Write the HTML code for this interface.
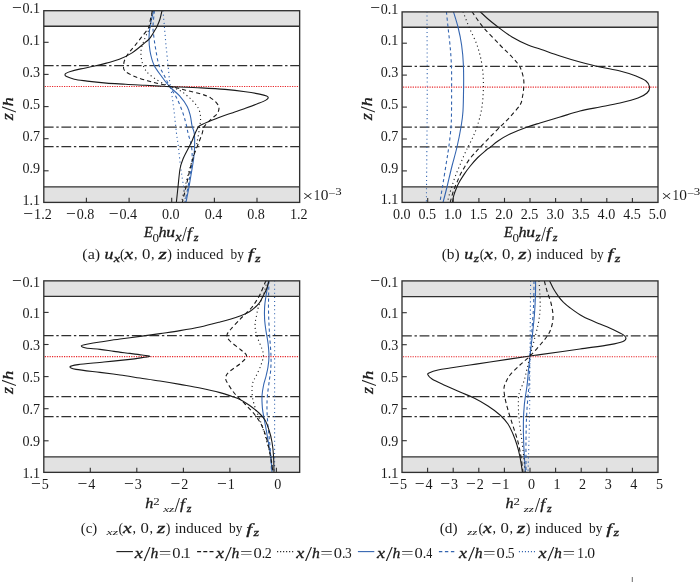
<!DOCTYPE html>
<html><head><meta charset="utf-8"><title>Figure</title>
<style>
html,body{margin:0;padding:0;background:#fff}
body{width:700px;height:582px;overflow:hidden;font-family:"Liberation Serif",serif}
svg{display:block}
svg text{font-family:"Liberation Serif",serif;fill:#1a1a1a}
.tk{font-size:14.1px}
.mn{font-size:17.5px}
.yl{font-size:14px;font-weight:bold;font-style:italic;letter-spacing:0.6px}
</style></head><body>
<svg width="700" height="582" viewBox="0 0 700 582">
<rect x="43.8" y="10.7" width="255.85" height="15.5" fill="#e2e2e2"/>
<rect x="43.8" y="186.9" width="255.85" height="15.4" fill="#e2e2e2"/>
<clipPath id="cpa"><rect x="43.8" y="10.7" width="255.85" height="191.7"/></clipPath>
<line x1="43.8" x2="299.65" y1="26.2" y2="26.2" stroke="#303030" stroke-width="1.35"/>
<line x1="43.8" x2="299.65" y1="186.9" y2="186.9" stroke="#303030" stroke-width="1.35"/>
<line x1="43.8" x2="299.65" y1="65.5" y2="65.5" stroke="#303030" stroke-width="1.25" stroke-dasharray="9.8,2.7,2.4,2.7"/>
<line x1="43.8" x2="299.65" y1="127.0" y2="127.0" stroke="#303030" stroke-width="1.25" stroke-dasharray="9.8,2.7,2.4,2.7"/>
<line x1="43.8" x2="299.65" y1="146.5" y2="146.5" stroke="#303030" stroke-width="1.25" stroke-dasharray="9.8,2.7,2.4,2.7"/>
<line x1="44.8" x2="299.65" y1="86.5" y2="86.5" stroke="#e8262a" stroke-width="1.1" stroke-dasharray="1.2,1.2"/>
<g clip-path="url(#cpa)" fill="none" stroke-linejoin="round">
<path d="M163.0,10.6C163.2,13.3 163.9,20.9 164.4,26.6C164.9,32.3 165.4,38.6 166.0,45.0C166.6,51.4 167.4,59.0 168.0,65.0C168.6,71.0 169.1,77.2 169.6,81.0C170.1,84.8 170.2,84.2 170.8,88.0C171.4,91.8 172.3,97.6 173.1,103.6C173.9,109.6 174.9,118.9 175.5,124.0C176.1,129.1 176.1,130.4 176.6,134.2C177.1,138.0 177.8,141.9 178.4,147.0C179.0,152.1 179.7,159.7 180.4,165.0C181.1,170.3 181.8,175.0 182.4,179.0C183.0,183.0 183.5,185.2 184.0,189.0C184.5,192.8 185.3,199.8 185.6,202.0" stroke="#3465b0" stroke-width="1.1" stroke-dasharray="1.1,3"/>
<path d="M154.4,10.6C154.2,13.3 153.1,22.0 153.0,26.6C152.9,31.2 153.5,33.9 154.0,38.0C154.5,42.1 155.2,46.5 156.0,51.0C156.8,55.5 157.5,60.7 159.0,65.0C160.5,69.3 163.2,73.3 165.0,77.0C166.8,80.7 168.1,83.6 170.0,87.0C171.9,90.4 174.3,93.5 176.3,97.3C178.3,101.1 180.2,105.7 181.8,109.9C183.4,114.1 184.6,118.5 185.7,122.4C186.8,126.3 187.3,130.1 188.1,133.4C188.9,136.7 189.8,139.1 190.5,142.0C191.2,144.9 191.8,147.5 192.0,151.0C192.2,154.5 192.3,159.0 192.0,163.0C191.7,167.0 190.7,171.0 190.0,175.0C189.3,179.0 188.8,182.5 188.0,187.0C187.2,191.5 185.5,199.5 185.0,202.0" stroke="#3465b0" stroke-width="1.1" stroke-dasharray="3.2,2.8"/>
<path d="M153.6,10.6C153.0,13.3 150.8,22.0 150.0,26.6C149.2,31.2 149.0,33.9 149.0,38.0C149.0,42.1 149.2,46.5 150.0,51.0C150.8,55.5 152.0,60.7 154.0,65.0C156.0,69.3 159.3,73.3 162.0,77.0C164.7,80.7 167.1,83.9 170.0,87.0C172.9,90.1 176.5,92.4 179.4,95.7C182.3,99.0 185.5,103.3 187.3,106.7C189.1,110.1 189.6,112.9 190.4,116.1C191.2,119.2 191.3,122.6 192.0,125.6C192.7,128.6 194.0,130.6 194.4,134.2C194.8,137.8 194.7,142.9 194.6,147.0C194.5,151.1 194.2,154.3 193.6,159.0C193.0,163.7 191.8,170.3 191.0,175.0C190.2,179.7 189.8,182.5 189.0,187.0C188.2,191.5 186.5,199.5 186.0,202.0" stroke="#3465b0" stroke-width="1.1"/>
<path d="M152.0,10.6C151.7,13.3 151.2,22.0 150.0,26.6C148.8,31.2 146.5,33.9 145.0,38.0C143.5,42.1 141.3,46.5 141.0,51.0C140.7,55.5 141.5,61.0 143.0,65.0C144.5,69.0 146.2,71.7 150.0,75.0C153.8,78.3 161.1,82.5 166.0,85.0C170.9,87.5 175.6,88.2 179.4,90.2C183.2,92.2 186.3,95.1 188.9,97.3C191.5,99.5 193.4,101.5 195.1,103.6C196.8,105.7 198.2,107.6 199.1,109.9C200.0,112.2 200.5,115.1 200.6,117.7C200.7,120.3 200.3,122.4 199.9,125.6C199.5,128.8 198.7,133.4 198.0,137.0C197.3,140.6 197.0,143.0 196.0,147.0C195.0,151.0 193.3,156.3 192.0,161.0C190.7,165.7 189.2,170.7 188.0,175.0C186.8,179.3 186.1,182.5 185.0,187.0C183.9,191.5 182.2,199.5 181.6,202.0" stroke="#1a1a1a" stroke-width="1.1" stroke-dasharray="1.1,3"/>
<path d="M152.4,10.6C152.1,12.0 151.1,16.3 150.5,19.0C149.9,21.7 149.6,24.8 149.0,26.6C148.4,28.4 148.4,28.1 147.1,30.0C145.8,31.9 143.1,35.1 141.1,37.7C139.1,40.3 136.9,43.1 135.1,45.4C133.2,47.7 131.6,49.3 130.0,51.4C128.4,53.5 126.6,55.7 125.5,58.0C124.4,60.3 123.7,62.8 123.6,65.0C123.5,67.2 122.9,69.0 125.0,71.0C127.1,73.0 131.5,75.2 136.0,77.0C140.5,78.8 146.5,80.5 152.0,82.0C157.5,83.5 163.4,84.6 169.0,86.0C174.6,87.4 180.3,88.9 185.7,90.2C191.1,91.5 197.2,92.8 201.4,94.1C205.6,95.4 208.3,96.5 210.9,98.1C213.5,99.7 215.8,101.9 217.1,103.6C218.4,105.3 219.0,106.6 219.0,108.3C219.0,110.0 218.4,112.0 217.1,113.8C215.8,115.6 213.1,117.1 210.9,119.3C208.7,121.5 205.2,124.8 203.8,127.1C202.4,129.4 203.3,130.1 202.2,133.4C201.1,136.7 198.4,143.4 197.0,147.0C195.6,150.6 195.2,151.3 194.0,155.0C192.8,158.7 191.3,163.7 190.0,169.0C188.7,174.3 187.3,181.5 186.0,187.0C184.7,192.5 183.0,199.5 182.4,202.0" stroke="#1a1a1a" stroke-width="1.1" stroke-dasharray="4.2,3"/>
<path d="M162.0,10.6C161.7,12.0 160.8,16.3 160.0,19.0C159.2,21.7 157.8,24.8 157.0,26.6C156.2,28.4 156.2,28.0 155.0,30.0C153.8,32.0 151.4,36.3 149.7,38.4C148.0,40.5 147.9,40.2 145.0,42.6C142.1,45.0 136.4,50.1 132.1,52.9C127.8,55.7 123.6,57.6 119.3,59.3C115.0,61.0 110.7,61.9 106.4,63.1C102.1,64.3 97.9,65.3 93.6,66.3C89.3,67.3 84.6,68.0 80.7,68.9C76.8,69.8 72.9,70.8 70.4,71.5C67.9,72.2 66.8,72.8 65.9,73.4C65.0,74.0 64.9,74.4 65.0,74.9C65.1,75.4 65.0,75.9 66.6,76.6C68.1,77.3 70.9,78.5 74.3,79.2C77.7,80.0 81.8,80.4 87.1,81.1C92.4,81.8 100.0,82.6 106.4,83.1C112.8,83.6 119.3,83.9 125.7,84.3C132.1,84.7 139.3,85.0 145.0,85.3C150.7,85.6 155.8,85.9 160.0,86.1C164.2,86.3 163.1,86.3 170.0,86.6C176.9,86.9 192.2,87.4 201.4,87.9C210.6,88.4 217.7,88.8 225.0,89.4C232.3,90.1 239.6,91.0 245.4,91.8C251.2,92.6 256.1,93.4 259.6,94.1C263.1,94.8 265.2,95.4 266.6,96.0C268.0,96.6 268.3,97.1 268.2,97.8C268.1,98.5 267.6,99.1 265.9,100.1C264.2,101.1 261.4,102.2 258.0,103.6C254.6,105.0 249.6,106.8 245.4,108.3C241.2,109.8 237.1,111.3 232.9,112.7C228.7,114.1 224.2,115.5 220.3,116.9C216.4,118.3 212.5,119.9 209.3,121.2C206.2,122.5 203.2,123.8 201.4,124.8C199.6,125.8 199.4,125.7 198.3,127.1C197.2,128.5 196.2,131.1 195.1,133.4C194.0,135.7 193.0,138.7 192.0,141.0C191.0,143.3 190.5,144.0 189.0,147.0C187.5,150.0 184.5,155.3 183.0,159.0C181.5,162.7 180.8,164.3 180.0,169.0C179.2,173.7 178.6,181.5 178.0,187.0C177.4,192.5 176.7,199.5 176.4,202.0" stroke="#1a1a1a" stroke-width="1.1"/>
</g>
<line x1="86.4" x2="86.4" y1="202.35" y2="197.85" stroke="#303030" stroke-width="1.1"/>
<line x1="129.1" x2="129.1" y1="202.35" y2="197.85" stroke="#303030" stroke-width="1.1"/>
<line x1="171.7" x2="171.7" y1="202.35" y2="197.85" stroke="#303030" stroke-width="1.1"/>
<line x1="214.4" x2="214.4" y1="202.35" y2="197.85" stroke="#303030" stroke-width="1.1"/>
<line x1="257.0" x2="257.0" y1="202.35" y2="197.85" stroke="#303030" stroke-width="1.1"/>
<line x1="43.8" x2="48.599999999999994" y1="42.3" y2="42.3" stroke="#303030" stroke-width="1.1"/>
<line x1="43.8" x2="48.599999999999994" y1="74.4" y2="74.4" stroke="#303030" stroke-width="1.1"/>
<line x1="43.8" x2="48.599999999999994" y1="106.6" y2="106.6" stroke="#303030" stroke-width="1.1"/>
<line x1="43.8" x2="48.599999999999994" y1="138.7" y2="138.7" stroke="#303030" stroke-width="1.1"/>
<line x1="43.8" x2="48.599999999999994" y1="170.8" y2="170.8" stroke="#303030" stroke-width="1.1"/>
<rect x="43.8" y="10.7" width="255.85" height="191.7" fill="none" stroke="#303030" stroke-width="1.35"/>
<text class="tk" x="34.1" y="218.9">1.2</text>
<text class="mn" x="33.2" y="218.6" text-anchor="end">−</text>
<text class="tk" x="76.7" y="218.9">0.8</text>
<text class="mn" x="75.8" y="218.6" text-anchor="end">−</text>
<text class="tk" x="119.4" y="218.9">0.4</text>
<text class="mn" x="118.5" y="218.6" text-anchor="end">−</text>
<text class="tk" x="162.0" y="218.9">0.0</text>
<text class="tk" x="204.7" y="218.9">0.4</text>
<text class="tk" x="247.3" y="218.9">0.8</text>
<text class="tk" x="289.9" y="218.9">1.2</text>
<text class="tk" x="40.1" y="13.1" text-anchor="end">0.1</text>
<text class="mn" x="21.8" y="12.8" text-anchor="end">−</text>
<text class="tk" x="40.1" y="44.7" text-anchor="end">0.1</text>
<text class="tk" x="40.1" y="76.8" text-anchor="end">0.3</text>
<text class="tk" x="40.1" y="109.0" text-anchor="end">0.5</text>
<text class="tk" x="40.1" y="141.1" text-anchor="end">0.7</text>
<text class="tk" x="40.1" y="173.2" text-anchor="end">0.9</text>
<text class="tk" x="40.1" y="204.8" text-anchor="end">1.1</text>
<rect x="402.1" y="11.9" width="255.90" height="15.3" fill="#e2e2e2"/>
<rect x="402.1" y="186.9" width="255.90" height="15.5" fill="#e2e2e2"/>
<clipPath id="cpb"><rect x="402.1" y="11.9" width="255.90" height="190.5"/></clipPath>
<line x1="402.1" x2="658.0" y1="27.2" y2="27.2" stroke="#303030" stroke-width="1.35"/>
<line x1="402.1" x2="658.0" y1="186.9" y2="186.9" stroke="#303030" stroke-width="1.35"/>
<line x1="402.1" x2="658.0" y1="66.3" y2="66.3" stroke="#303030" stroke-width="1.25" stroke-dasharray="9.8,2.7,2.4,2.7"/>
<line x1="402.1" x2="658.0" y1="127.0" y2="127.0" stroke="#303030" stroke-width="1.25" stroke-dasharray="9.8,2.7,2.4,2.7"/>
<line x1="402.1" x2="658.0" y1="146.8" y2="146.8" stroke="#303030" stroke-width="1.25" stroke-dasharray="9.8,2.7,2.4,2.7"/>
<line x1="403.1" x2="658.0" y1="87.1" y2="87.1" stroke="#e8262a" stroke-width="1.1" stroke-dasharray="1.2,1.2"/>
<g clip-path="url(#cpb)" fill="none" stroke-linejoin="round">
<path d="M427.0,11.6C427.0,26.3 427.3,68.2 427.2,100.0C427.1,131.8 426.5,185.4 426.4,202.5" stroke="#3465b0" stroke-width="1.1" stroke-dasharray="1.1,3"/>
<path d="M446.4,11.6C446.7,14.2 447.4,21.4 448.0,27.0C448.6,32.6 449.4,38.7 450.0,45.0C450.6,51.3 451.1,58.0 451.4,65.0C451.7,72.0 451.6,79.0 451.6,87.0C451.6,95.0 451.6,106.3 451.5,113.0C451.4,119.7 451.4,121.3 451.0,127.0C450.6,132.7 449.6,141.0 448.8,147.0C448.0,153.0 447.2,157.3 446.3,163.0C445.4,168.7 444.2,176.2 443.4,181.1C442.6,186.0 442.1,188.9 441.5,192.5C440.9,196.1 440.2,200.8 439.9,202.5" stroke="#3465b0" stroke-width="1.1" stroke-dasharray="3.2,2.8"/>
<path d="M453.4,11.6C454.2,14.2 456.6,21.4 458.0,27.0C459.4,32.6 460.7,38.7 461.6,45.0C462.5,51.3 463.1,58.0 463.4,65.0C463.7,72.0 463.7,79.3 463.6,87.0C463.5,94.7 463.4,104.3 463.0,111.0C462.6,117.7 462.0,121.0 461.0,127.0C460.0,133.0 458.5,140.5 457.0,147.0C455.5,153.5 453.7,159.3 452.0,166.0C450.3,172.7 448.5,180.9 447.0,187.0C445.5,193.1 443.7,199.9 443.0,202.5" stroke="#3465b0" stroke-width="1.1"/>
<path d="M463.0,11.6C464.0,14.2 466.7,21.4 469.0,27.0C471.3,32.6 474.8,38.7 477.0,45.0C479.2,51.3 480.9,58.0 482.0,65.0C483.1,72.0 483.5,79.7 483.4,87.0C483.3,94.3 482.7,102.3 481.6,109.0C480.5,115.7 478.6,122.0 477.0,127.0C475.4,132.0 473.5,135.7 472.0,139.0C470.5,142.3 469.0,145.0 468.0,147.0C467.0,149.0 466.9,149.1 466.0,151.0C465.1,152.9 463.7,156.2 462.7,158.5C461.7,160.8 460.8,162.9 459.9,165.1C459.0,167.3 458.1,169.3 457.1,171.7C456.2,174.0 455.1,176.7 454.2,179.2C453.3,181.7 452.6,184.4 451.9,186.8C451.1,189.2 450.5,190.8 449.7,193.4C448.9,196.0 447.7,201.0 447.3,202.5" stroke="#1a1a1a" stroke-width="1.1" stroke-dasharray="1.1,3"/>
<path d="M472.0,11.6C473.8,14.2 478.3,21.4 483.0,27.0C487.7,32.6 495.2,40.0 500.0,45.0C504.8,50.0 508.7,53.3 512.0,57.0C515.3,60.7 518.1,63.3 520.0,67.0C521.9,70.7 523.0,75.3 523.6,79.0C524.2,82.7 523.8,86.0 523.6,89.0C523.4,92.0 523.0,94.3 522.4,97.0C521.8,99.7 522.1,101.7 520.0,105.0C517.9,108.3 513.3,113.3 510.0,117.0C506.7,120.7 503.3,123.7 500.0,127.0C496.7,130.3 493.2,133.7 490.0,137.0C486.8,140.3 482.9,144.5 480.5,147.0C478.1,149.5 477.8,149.8 475.9,151.9C474.0,154.0 471.2,156.9 469.3,159.4C467.4,161.9 466.0,164.6 464.6,167.0C463.2,169.4 462.0,171.2 460.8,173.6C459.6,175.9 458.5,178.8 457.5,181.1C456.5,183.4 455.6,185.5 454.7,187.7C453.8,189.9 453.1,191.8 452.4,194.3C451.6,196.8 450.6,201.1 450.2,202.5" stroke="#1a1a1a" stroke-width="1.1" stroke-dasharray="4.2,3"/>
<path d="M480.0,11.6C481.3,12.8 485.0,16.4 488.0,19.0C491.0,21.6 494.0,24.0 498.0,27.0C502.0,30.0 507.0,34.0 512.0,37.0C517.0,40.0 523.3,43.0 528.0,45.0C532.7,47.0 534.7,47.2 540.0,49.0C545.3,50.8 553.3,53.8 560.0,56.0C566.7,58.2 573.3,60.2 580.0,62.0C586.7,63.8 593.3,65.5 600.0,67.0C606.7,68.5 614.0,69.5 620.0,71.0C626.0,72.5 631.7,74.3 636.0,76.0C640.3,77.7 643.7,79.2 646.0,81.0C648.3,82.8 649.4,85.0 649.6,87.0C649.8,89.0 648.9,91.2 647.0,93.0C645.1,94.8 642.5,96.3 638.0,98.0C633.5,99.7 626.3,101.5 620.0,103.0C613.7,104.5 606.7,105.7 600.0,107.0C593.3,108.3 586.7,109.3 580.0,111.0C573.3,112.7 566.7,115.0 560.0,117.0C553.3,119.0 545.7,121.3 540.0,123.0C534.3,124.7 531.0,125.6 526.0,127.4C521.0,129.2 514.7,131.7 510.0,134.0C505.3,136.3 501.2,138.8 498.0,141.0C494.8,143.2 492.4,145.5 490.5,147.0C488.6,148.5 488.4,148.2 486.3,150.0C484.2,151.8 480.5,154.8 477.8,157.5C475.1,160.2 472.5,163.3 470.3,166.0C468.1,168.7 466.3,171.1 464.6,173.6C462.9,176.1 461.2,178.8 459.9,181.1C458.6,183.4 457.6,185.3 456.6,187.7C455.6,190.1 454.5,192.8 453.8,195.3C453.1,197.8 452.6,201.3 452.3,202.5" stroke="#1a1a1a" stroke-width="1.1"/>
</g>
<line x1="427.7" x2="427.7" y1="202.4" y2="197.9" stroke="#303030" stroke-width="1.1"/>
<line x1="453.3" x2="453.3" y1="202.4" y2="197.9" stroke="#303030" stroke-width="1.1"/>
<line x1="478.9" x2="478.9" y1="202.4" y2="197.9" stroke="#303030" stroke-width="1.1"/>
<line x1="504.5" x2="504.5" y1="202.4" y2="197.9" stroke="#303030" stroke-width="1.1"/>
<line x1="530.0" x2="530.0" y1="202.4" y2="197.9" stroke="#303030" stroke-width="1.1"/>
<line x1="555.6" x2="555.6" y1="202.4" y2="197.9" stroke="#303030" stroke-width="1.1"/>
<line x1="581.2" x2="581.2" y1="202.4" y2="197.9" stroke="#303030" stroke-width="1.1"/>
<line x1="606.8" x2="606.8" y1="202.4" y2="197.9" stroke="#303030" stroke-width="1.1"/>
<line x1="632.4" x2="632.4" y1="202.4" y2="197.9" stroke="#303030" stroke-width="1.1"/>
<line x1="402.1" x2="406.90000000000003" y1="43.2" y2="43.2" stroke="#303030" stroke-width="1.1"/>
<line x1="402.1" x2="406.90000000000003" y1="75.1" y2="75.1" stroke="#303030" stroke-width="1.1"/>
<line x1="402.1" x2="406.90000000000003" y1="107.1" y2="107.1" stroke="#303030" stroke-width="1.1"/>
<line x1="402.1" x2="406.90000000000003" y1="139.0" y2="139.0" stroke="#303030" stroke-width="1.1"/>
<line x1="402.1" x2="406.90000000000003" y1="170.9" y2="170.9" stroke="#303030" stroke-width="1.1"/>
<rect x="402.1" y="11.9" width="255.90" height="190.5" fill="none" stroke="#303030" stroke-width="1.35"/>
<text class="tk" x="392.9" y="218.8">0.0</text>
<text class="tk" x="418.5" y="218.8">0.5</text>
<text class="tk" x="444.1" y="218.8">1.0</text>
<text class="tk" x="469.7" y="218.8">1.5</text>
<text class="tk" x="495.2" y="218.8">2.0</text>
<text class="tk" x="520.8" y="218.8">2.5</text>
<text class="tk" x="546.4" y="218.8">3.0</text>
<text class="tk" x="572.0" y="218.8">3.5</text>
<text class="tk" x="597.6" y="218.8">4.0</text>
<text class="tk" x="623.2" y="218.8">4.5</text>
<text class="tk" x="648.8" y="218.8">5.0</text>
<text class="tk" x="398.4" y="13.5" text-anchor="end">0.1</text>
<text class="mn" x="380.1" y="13.2" text-anchor="end">−</text>
<text class="tk" x="398.4" y="44.8" text-anchor="end">0.1</text>
<text class="tk" x="398.4" y="76.7" text-anchor="end">0.3</text>
<text class="tk" x="398.4" y="108.7" text-anchor="end">0.5</text>
<text class="tk" x="398.4" y="140.6" text-anchor="end">0.7</text>
<text class="tk" x="398.4" y="172.5" text-anchor="end">0.9</text>
<text class="tk" x="398.4" y="204.0" text-anchor="end">1.1</text>
<rect x="43.8" y="280.85" width="255.85" height="15.5" fill="#e2e2e2"/>
<rect x="43.8" y="456.9" width="255.85" height="15.5" fill="#e2e2e2"/>
<clipPath id="cpc"><rect x="43.8" y="280.85" width="255.85" height="191.5"/></clipPath>
<line x1="43.8" x2="299.65" y1="296.4" y2="296.4" stroke="#303030" stroke-width="1.35"/>
<line x1="43.8" x2="299.65" y1="456.9" y2="456.9" stroke="#303030" stroke-width="1.35"/>
<line x1="43.8" x2="299.65" y1="335.6" y2="335.6" stroke="#303030" stroke-width="1.25" stroke-dasharray="9.8,2.7,2.4,2.7"/>
<line x1="43.8" x2="299.65" y1="396.7" y2="396.7" stroke="#303030" stroke-width="1.25" stroke-dasharray="9.8,2.7,2.4,2.7"/>
<line x1="43.8" x2="299.65" y1="416.5" y2="416.5" stroke="#303030" stroke-width="1.25" stroke-dasharray="9.8,2.7,2.4,2.7"/>
<line x1="44.8" x2="299.65" y1="356.6" y2="356.6" stroke="#e8262a" stroke-width="1.1" stroke-dasharray="1.2,1.2"/>
<g clip-path="url(#cpc)" fill="none" stroke-linejoin="round">
<path d="M274.6,280.6C274.6,312.5 274.6,440.1 274.6,472.0" stroke="#3465b0" stroke-width="1.1" stroke-dasharray="1.1,3"/>
<path d="M269.0,280.6C268.9,283.2 268.7,290.3 268.6,296.0C268.5,301.7 268.4,308.5 268.6,315.0C268.8,321.5 269.2,328.2 269.6,335.0C270.0,341.8 270.8,350.0 271.0,356.0C271.2,362.0 270.9,367.0 270.6,371.0C270.3,375.0 269.9,375.8 269.4,380.0C268.9,384.2 267.8,391.0 267.4,396.0C267.0,401.0 266.9,405.0 267.0,410.0C267.1,415.0 267.5,420.0 268.0,426.0C268.5,432.0 269.4,438.3 270.0,446.0C270.6,453.7 271.3,467.7 271.6,472.0" stroke="#3465b0" stroke-width="1.1" stroke-dasharray="3.2,2.8"/>
<path d="M268.6,280.6C268.2,283.2 266.7,291.6 266.0,296.0C265.3,300.4 264.8,303.2 264.6,307.0C264.4,310.8 264.4,315.0 264.6,319.0C264.8,323.0 265.4,327.0 266.0,331.0C266.6,335.0 267.5,338.8 268.0,343.0C268.5,347.2 269.0,352.0 269.0,356.0C269.0,360.0 268.5,363.8 268.0,367.0C267.5,370.2 266.9,372.5 266.2,375.5C265.5,378.5 264.3,381.6 263.6,385.0C262.9,388.4 262.2,392.2 262.0,396.0C261.8,399.8 262.1,404.3 262.4,408.0C262.7,411.7 263.3,414.0 264.0,418.0C264.7,422.0 265.8,427.3 266.6,432.0C267.4,436.7 268.3,441.7 269.0,446.0C269.7,450.3 270.5,453.7 271.0,458.0C271.5,462.3 271.8,469.7 272.0,472.0" stroke="#3465b0" stroke-width="1.1"/>
<path d="M267.0,280.6C266.4,283.0 264.8,291.1 263.5,295.0C262.2,298.9 260.2,301.9 259.3,304.2C258.4,306.5 258.4,307.1 257.9,309.0C257.4,310.9 256.9,313.3 256.5,315.6C256.1,317.9 255.4,320.6 255.2,323.0C255.0,325.4 254.9,327.3 255.4,330.0C255.9,332.7 256.9,335.8 258.0,339.0C259.1,342.2 261.1,346.2 262.0,349.0C262.9,351.8 263.6,353.3 263.4,356.0C263.2,358.7 262.1,361.8 261.0,365.0C259.9,368.2 257.9,372.2 256.6,375.0C255.3,377.8 253.8,379.5 253.0,382.0C252.2,384.5 252.0,387.0 252.0,390.0C252.0,393.0 252.3,396.7 253.0,400.0C253.7,403.3 254.8,406.7 256.0,410.0C257.2,413.3 258.7,416.3 260.0,420.0C261.3,423.7 262.7,427.7 264.0,432.0C265.3,436.3 266.8,441.7 268.0,446.0C269.2,450.3 270.2,453.7 271.0,458.0C271.8,462.3 272.7,469.7 273.0,472.0" stroke="#1a1a1a" stroke-width="1.1" stroke-dasharray="1.1,3"/>
<path d="M266.0,280.6C265.8,281.2 265.4,281.8 264.5,284.0C263.6,286.2 261.7,291.0 260.3,293.9C258.9,296.8 257.5,299.0 256.0,301.4C254.5,303.8 253.2,305.8 251.3,308.0C249.4,310.2 246.6,312.7 244.7,314.6C242.8,316.5 242.3,316.9 240.0,319.3C237.7,321.7 233.2,326.4 231.0,329.0C228.8,331.6 227.2,333.0 227.0,335.0C226.8,337.0 227.7,338.5 230.0,341.0C232.3,343.5 238.2,347.5 241.0,350.0C243.8,352.5 246.6,353.8 246.6,356.0C246.6,358.2 243.9,360.3 241.0,363.0C238.1,365.7 231.6,369.5 229.0,372.0C226.4,374.5 225.8,376.0 225.6,378.0C225.4,380.0 226.4,381.3 228.0,384.0C229.6,386.7 232.2,390.7 235.0,394.0C237.8,397.3 241.7,400.5 245.0,404.0C248.3,407.5 252.2,411.3 255.0,415.0C257.8,418.7 260.0,421.8 262.0,426.0C264.0,430.2 265.6,434.8 267.0,440.0C268.4,445.2 269.6,451.7 270.6,457.0C271.6,462.3 272.6,469.5 273.0,472.0" stroke="#1a1a1a" stroke-width="1.1" stroke-dasharray="4.2,3"/>
<path d="M269.0,280.6C268.6,282.0 267.6,286.4 266.6,289.0C265.6,291.6 264.1,294.1 262.8,296.5C261.5,298.9 261.2,300.8 259.0,303.3C256.8,305.9 252.6,309.7 249.4,311.8C246.2,313.9 244.9,314.3 240.0,316.0C235.1,317.7 226.7,320.2 220.0,322.0C213.3,323.8 206.7,325.6 200.0,327.0C193.3,328.4 186.7,329.5 180.0,330.6C173.3,331.7 166.7,332.6 160.0,333.6C153.3,334.6 146.7,335.5 140.0,336.4C133.3,337.3 126.7,338.1 120.0,339.0C113.3,339.9 105.3,341.2 100.0,342.0C94.7,342.8 91.1,343.4 88.0,344.0C84.9,344.6 81.7,345.1 81.4,345.8C81.1,346.5 82.9,347.4 86.0,348.0C89.1,348.6 95.3,348.8 100.0,349.4C104.7,350.0 109.0,350.7 114.0,351.4C119.0,352.1 125.3,352.8 130.0,353.4C134.7,354.0 138.7,354.5 142.0,355.0C145.3,355.5 150.0,355.8 150.0,356.2C150.0,356.6 145.3,357.1 142.0,357.6C138.7,358.1 136.3,358.7 130.0,359.4C123.7,360.1 112.7,361.1 104.0,362.0C95.3,362.9 83.7,363.8 78.0,364.6C72.3,365.4 70.3,366.0 70.0,366.8C69.7,367.6 71.0,368.5 76.0,369.4C81.0,370.3 92.7,371.5 100.0,372.4C107.3,373.3 113.3,374.1 120.0,375.0C126.7,375.9 133.3,377.0 140.0,378.0C146.7,379.0 153.3,379.9 160.0,381.0C166.7,382.1 173.3,383.2 180.0,384.4C186.7,385.6 193.3,386.6 200.0,388.0C206.7,389.4 214.7,391.2 220.0,392.6C225.3,394.0 228.7,395.3 232.0,396.4C235.3,397.5 237.2,398.0 240.0,399.4C242.8,400.8 245.8,402.7 249.0,405.0C252.2,407.3 256.3,410.5 259.0,413.0C261.7,415.5 263.3,417.2 265.0,420.0C266.7,422.8 267.8,426.3 269.0,430.0C270.2,433.7 271.2,437.5 272.0,442.0C272.8,446.5 273.3,451.9 273.6,457.0C273.9,462.1 273.9,469.9 274.0,472.5" stroke="#1a1a1a" stroke-width="1.1"/>
</g>
<line x1="90.3" x2="90.3" y1="472.35" y2="467.85" stroke="#303030" stroke-width="1.1"/>
<line x1="136.8" x2="136.8" y1="472.35" y2="467.85" stroke="#303030" stroke-width="1.1"/>
<line x1="183.4" x2="183.4" y1="472.35" y2="467.85" stroke="#303030" stroke-width="1.1"/>
<line x1="229.9" x2="229.9" y1="472.35" y2="467.85" stroke="#303030" stroke-width="1.1"/>
<line x1="276.4" x2="276.4" y1="472.35" y2="467.85" stroke="#303030" stroke-width="1.1"/>
<line x1="43.8" x2="48.599999999999994" y1="312.4" y2="312.4" stroke="#303030" stroke-width="1.1"/>
<line x1="43.8" x2="48.599999999999994" y1="344.5" y2="344.5" stroke="#303030" stroke-width="1.1"/>
<line x1="43.8" x2="48.599999999999994" y1="376.6" y2="376.6" stroke="#303030" stroke-width="1.1"/>
<line x1="43.8" x2="48.599999999999994" y1="408.7" y2="408.7" stroke="#303030" stroke-width="1.1"/>
<line x1="43.8" x2="48.599999999999994" y1="440.8" y2="440.8" stroke="#303030" stroke-width="1.1"/>
<rect x="43.8" y="280.85" width="255.85" height="191.5" fill="none" stroke="#303030" stroke-width="1.35"/>
<text class="tk" x="41.7" y="488.9">5</text>
<text class="mn" x="40.8" y="488.6" text-anchor="end">−</text>
<text class="tk" x="88.2" y="488.9">4</text>
<text class="mn" x="87.3" y="488.6" text-anchor="end">−</text>
<text class="tk" x="134.7" y="488.9">3</text>
<text class="mn" x="133.8" y="488.6" text-anchor="end">−</text>
<text class="tk" x="181.2" y="488.9">2</text>
<text class="mn" x="180.3" y="488.6" text-anchor="end">−</text>
<text class="tk" x="227.7" y="488.9">1</text>
<text class="mn" x="226.8" y="488.6" text-anchor="end">−</text>
<text class="tk" x="274.3" y="488.9">0</text>
<text class="tk" x="40.1" y="286.5" text-anchor="end">0.1</text>
<text class="mn" x="21.8" y="286.2" text-anchor="end">−</text>
<text class="tk" x="40.1" y="318.0" text-anchor="end">0.1</text>
<text class="tk" x="40.1" y="350.1" text-anchor="end">0.3</text>
<text class="tk" x="40.1" y="382.2" text-anchor="end">0.5</text>
<text class="tk" x="40.1" y="414.3" text-anchor="end">0.7</text>
<text class="tk" x="40.1" y="446.4" text-anchor="end">0.9</text>
<text class="tk" x="40.1" y="478.0" text-anchor="end">1.1</text>
<rect x="402.0" y="280.9" width="256.00" height="15.8" fill="#e2e2e2"/>
<rect x="402.0" y="456.8" width="256.00" height="15.6" fill="#e2e2e2"/>
<clipPath id="cpd"><rect x="402.0" y="280.9" width="256.00" height="191.5"/></clipPath>
<line x1="402.0" x2="658.0" y1="296.6" y2="296.6" stroke="#303030" stroke-width="1.35"/>
<line x1="402.0" x2="658.0" y1="456.8" y2="456.8" stroke="#303030" stroke-width="1.35"/>
<line x1="402.0" x2="658.0" y1="335.8" y2="335.8" stroke="#303030" stroke-width="1.25" stroke-dasharray="9.8,2.7,2.4,2.7"/>
<line x1="402.0" x2="658.0" y1="396.7" y2="396.7" stroke="#303030" stroke-width="1.25" stroke-dasharray="9.8,2.7,2.4,2.7"/>
<line x1="402.0" x2="658.0" y1="416.5" y2="416.5" stroke="#303030" stroke-width="1.25" stroke-dasharray="9.8,2.7,2.4,2.7"/>
<line x1="403.0" x2="658.0" y1="356.7" y2="356.7" stroke="#e8262a" stroke-width="1.1" stroke-dasharray="1.2,1.2"/>
<g clip-path="url(#cpd)" fill="none" stroke-linejoin="round">
<path d="M530.6,281.0C530.5,293.5 530.2,334.5 530.0,356.0C529.8,377.5 529.8,396.0 529.6,410.0C529.4,424.0 529.3,429.7 529.0,440.0C528.7,450.3 528.2,466.7 528.0,472.0" stroke="#3465b0" stroke-width="1.1" stroke-dasharray="1.1,3"/>
<path d="M534.0,281.0C533.9,285.0 534.0,296.0 533.6,305.0C533.2,314.0 532.2,326.5 531.6,335.0C531.0,343.5 530.4,347.7 530.0,356.0C529.6,364.3 529.3,377.9 529.0,384.6C528.7,391.3 528.4,390.8 528.0,396.0C527.6,401.2 526.9,408.7 526.6,416.0C526.3,423.3 526.1,430.7 526.0,440.0C525.9,449.3 526.0,466.7 526.0,472.0" stroke="#3465b0" stroke-width="1.1" stroke-dasharray="3.2,2.8"/>
<path d="M535.6,281.0C535.6,283.7 535.6,291.3 535.4,297.0C535.2,302.7 534.9,308.7 534.4,315.0C533.9,321.3 533.1,328.2 532.4,335.0C531.7,341.8 530.7,350.0 530.0,356.0C529.3,362.0 528.9,366.0 528.4,371.0C527.9,376.0 527.7,380.5 527.0,386.0C526.3,391.5 525.0,398.0 524.4,404.0C523.8,410.0 523.5,416.0 523.4,422.0C523.3,428.0 523.4,434.2 523.6,440.0C523.8,445.8 524.1,451.7 524.4,457.0C524.7,462.3 525.2,469.5 525.4,472.0" stroke="#3465b0" stroke-width="1.1"/>
<path d="M539.0,281.0C539.2,283.7 539.8,292.0 540.0,297.0C540.2,302.0 540.3,306.3 540.0,311.0C539.7,315.7 539.0,320.0 538.0,325.0C537.0,330.0 535.3,335.8 534.0,341.0C532.7,346.2 531.2,351.3 530.0,356.0C528.8,360.7 528.0,364.8 527.0,369.0C526.0,373.2 525.3,376.8 524.0,381.0C522.7,385.2 519.9,389.8 519.0,394.0C518.1,398.2 518.4,402.0 518.4,406.0C518.4,410.0 518.6,413.3 519.0,418.0C519.4,422.7 520.3,428.7 521.0,434.0C521.7,439.3 522.3,443.7 523.0,450.0C523.7,456.3 524.7,468.3 525.0,472.0" stroke="#1a1a1a" stroke-width="1.1" stroke-dasharray="1.1,3"/>
<path d="M544.4,281.0C544.8,282.7 545.9,287.3 547.0,291.0C548.1,294.7 550.0,299.0 551.0,303.0C552.0,307.0 552.8,311.3 553.0,315.0C553.2,318.7 552.8,321.7 552.0,325.0C551.2,328.3 550.0,331.7 548.0,335.0C546.0,338.3 543.0,341.5 540.0,345.0C537.0,348.5 533.3,352.7 530.0,356.0C526.7,359.3 523.3,361.8 520.0,365.0C516.7,368.2 512.3,372.2 510.0,375.0C507.7,377.8 507.0,379.8 506.0,382.0C505.0,384.2 504.2,385.3 504.0,388.0C503.8,390.7 504.3,394.3 505.0,398.0C505.7,401.7 506.7,405.3 508.0,410.0C509.3,414.7 511.3,420.7 513.0,426.0C514.7,431.3 516.7,436.8 518.0,442.0C519.3,447.2 520.2,452.0 521.0,457.0C521.8,462.0 522.7,469.5 523.0,472.0" stroke="#1a1a1a" stroke-width="1.1" stroke-dasharray="4.2,3"/>
<path d="M549.6,281.0C550.3,282.3 552.1,286.4 553.6,289.0C555.1,291.6 557.0,294.4 558.6,296.6C560.2,298.8 561.6,300.5 563.5,302.4C565.4,304.2 566.6,305.3 569.9,307.7C573.1,310.1 578.0,313.8 583.0,316.5C588.0,319.2 594.8,321.8 600.0,324.0C605.2,326.2 610.2,328.2 614.0,330.0C617.8,331.8 621.0,333.3 623.0,334.6C625.0,335.9 626.0,336.9 626.0,338.0C626.0,339.1 625.7,340.3 623.0,341.4C620.3,342.5 617.2,343.3 610.0,344.6C602.8,345.9 591.7,347.3 580.0,349.0C568.3,350.7 548.3,353.4 540.0,354.6C531.7,355.8 538.3,354.8 530.0,356.0C521.7,357.2 500.0,360.5 490.0,362.0C480.0,363.5 476.7,364.0 470.0,365.0C463.3,366.0 455.3,367.2 450.0,368.0C444.7,368.8 441.5,369.2 438.0,370.0C434.5,370.8 430.7,372.2 429.0,373.0C427.3,373.8 427.5,374.0 428.0,375.0C428.5,376.0 429.3,377.3 432.0,379.0C434.7,380.7 439.3,382.8 444.0,385.0C448.7,387.2 455.0,389.8 460.0,392.0C465.0,394.2 469.3,395.7 474.0,398.0C478.7,400.3 483.7,403.2 488.0,406.0C492.3,408.8 496.7,412.0 500.0,415.0C503.3,418.0 505.8,420.8 508.0,424.0C510.2,427.2 511.5,430.5 513.0,434.0C514.5,437.5 515.8,441.2 517.0,445.0C518.2,448.8 519.1,452.5 520.0,457.0C520.9,461.5 522.0,469.5 522.4,472.0" stroke="#1a1a1a" stroke-width="1.1"/>
</g>
<line x1="427.6" x2="427.6" y1="472.35" y2="467.85" stroke="#303030" stroke-width="1.1"/>
<line x1="453.2" x2="453.2" y1="472.35" y2="467.85" stroke="#303030" stroke-width="1.1"/>
<line x1="478.8" x2="478.8" y1="472.35" y2="467.85" stroke="#303030" stroke-width="1.1"/>
<line x1="504.4" x2="504.4" y1="472.35" y2="467.85" stroke="#303030" stroke-width="1.1"/>
<line x1="530.0" x2="530.0" y1="472.35" y2="467.85" stroke="#303030" stroke-width="1.1"/>
<line x1="555.6" x2="555.6" y1="472.35" y2="467.85" stroke="#303030" stroke-width="1.1"/>
<line x1="581.2" x2="581.2" y1="472.35" y2="467.85" stroke="#303030" stroke-width="1.1"/>
<line x1="606.8" x2="606.8" y1="472.35" y2="467.85" stroke="#303030" stroke-width="1.1"/>
<line x1="632.4" x2="632.4" y1="472.35" y2="467.85" stroke="#303030" stroke-width="1.1"/>
<line x1="402.0" x2="406.8" y1="312.7" y2="312.7" stroke="#303030" stroke-width="1.1"/>
<line x1="402.0" x2="406.8" y1="344.7" y2="344.7" stroke="#303030" stroke-width="1.1"/>
<line x1="402.0" x2="406.8" y1="376.7" y2="376.7" stroke="#303030" stroke-width="1.1"/>
<line x1="402.0" x2="406.8" y1="408.7" y2="408.7" stroke="#303030" stroke-width="1.1"/>
<line x1="402.0" x2="406.8" y1="440.7" y2="440.7" stroke="#303030" stroke-width="1.1"/>
<rect x="402.0" y="280.9" width="256.00" height="191.5" fill="none" stroke="#303030" stroke-width="1.35"/>
<text class="tk" x="399.9" y="489.0">5</text>
<text class="mn" x="399.0" y="488.7" text-anchor="end">−</text>
<text class="tk" x="425.5" y="489.0">4</text>
<text class="mn" x="424.6" y="488.7" text-anchor="end">−</text>
<text class="tk" x="451.1" y="489.0">3</text>
<text class="mn" x="450.2" y="488.7" text-anchor="end">−</text>
<text class="tk" x="476.7" y="489.0">2</text>
<text class="mn" x="475.8" y="488.7" text-anchor="end">−</text>
<text class="tk" x="502.3" y="489.0">1</text>
<text class="mn" x="501.4" y="488.7" text-anchor="end">−</text>
<text class="tk" x="527.9" y="489.0">0</text>
<text class="tk" x="553.5" y="489.0">1</text>
<text class="tk" x="579.1" y="489.0">2</text>
<text class="tk" x="604.7" y="489.0">3</text>
<text class="tk" x="630.3" y="489.0">4</text>
<text class="tk" x="655.9" y="489.0">5</text>
<text class="tk" x="398.3" y="286.5" text-anchor="end">0.1</text>
<text class="mn" x="380.0" y="286.2" text-anchor="end">−</text>
<text class="tk" x="398.3" y="318.3" text-anchor="end">0.1</text>
<text class="tk" x="398.3" y="350.3" text-anchor="end">0.3</text>
<text class="tk" x="398.3" y="382.3" text-anchor="end">0.5</text>
<text class="tk" x="398.3" y="414.3" text-anchor="end">0.7</text>
<text class="tk" x="398.3" y="446.3" text-anchor="end">0.9</text>
<text class="tk" x="398.3" y="478.0" text-anchor="end">1.1</text>
<line x1="116.4" x2="132.9" y1="551.6" y2="551.6" stroke="#1a1a1a" stroke-width="1.1"/>
<line x1="197.1" x2="213.6" y1="551.6" y2="551.6" stroke="#1a1a1a" stroke-width="1.1" stroke-dasharray="4,2.2"/>
<line x1="277.1" x2="293.6" y1="551.6" y2="551.6" stroke="#1a1a1a" stroke-width="1.1" stroke-dasharray="1.1,1.9"/>
<line x1="357.9" x2="374.3" y1="551.6" y2="551.6" stroke="#3465b0" stroke-width="1.1"/>
<line x1="438.9" x2="455.7" y1="551.6" y2="551.6" stroke="#3465b0" stroke-width="1.1" stroke-dasharray="3.4,2.6"/>
<line x1="518.9" x2="535.7" y1="551.6" y2="551.6" stroke="#3465b0" stroke-width="1.1" stroke-dasharray="1.1,1.9"/>
<g transform="translate(13.1,120.7) rotate(-90)"><text transform="translate(0.42,0.00) scale(1.132,1)" style="font-size:16px;font-style:italic;stroke:#1a1a1a;stroke-width:0.3px">z</text>
<text transform="translate(8.20,3.20) scale(1.055,1)" style="font-size:21px;">/</text>
<text transform="translate(14.25,0.00) scale(1.193,1)" style="font-size:15.5px;font-style:italic;stroke:#1a1a1a;stroke-width:0.3px">h</text></g>
<g transform="translate(372.1,120.7) rotate(-90)"><text transform="translate(0.42,0.00) scale(1.132,1)" style="font-size:16px;font-style:italic;stroke:#1a1a1a;stroke-width:0.3px">z</text>
<text transform="translate(8.20,3.20) scale(1.055,1)" style="font-size:21px;">/</text>
<text transform="translate(14.25,0.00) scale(1.193,1)" style="font-size:15.5px;font-style:italic;stroke:#1a1a1a;stroke-width:0.3px">h</text></g>
<g transform="translate(13.1,394.3) rotate(-90)"><text transform="translate(0.42,0.00) scale(1.132,1)" style="font-size:16px;font-style:italic;stroke:#1a1a1a;stroke-width:0.3px">z</text>
<text transform="translate(8.20,3.20) scale(1.055,1)" style="font-size:21px;">/</text>
<text transform="translate(14.25,0.00) scale(1.193,1)" style="font-size:15.5px;font-style:italic;stroke:#1a1a1a;stroke-width:0.3px">h</text></g>
<g transform="translate(372.5,394.3) rotate(-90)"><text transform="translate(0.42,0.00) scale(1.132,1)" style="font-size:16px;font-style:italic;stroke:#1a1a1a;stroke-width:0.3px">z</text>
<text transform="translate(8.20,3.20) scale(1.055,1)" style="font-size:21px;">/</text>
<text transform="translate(14.25,0.00) scale(1.193,1)" style="font-size:15.5px;font-style:italic;stroke:#1a1a1a;stroke-width:0.3px">h</text></g>
<text transform="translate(302.57,201.10) scale(1.304,1)" style="font-size:14.5px;">×</text>
<text transform="translate(313.85,199.60) scale(0.923,1)" style="font-size:14px;">1</text>
<text transform="translate(320.65,199.60) scale(1.100,1)" style="font-size:14px;">0</text>
<text transform="translate(328.57,196.80) scale(1.254,1)" style="font-size:10px;">−</text>
<text transform="translate(335.13,195.00) scale(1.342,1)" style="font-size:9.6px;">3</text>
<text transform="translate(661.17,201.10) scale(1.304,1)" style="font-size:14.5px;">×</text>
<text transform="translate(672.45,199.60) scale(0.923,1)" style="font-size:14px;">1</text>
<text transform="translate(679.25,199.60) scale(1.100,1)" style="font-size:14px;">0</text>
<text transform="translate(687.17,196.80) scale(1.254,1)" style="font-size:10px;">−</text>
<text transform="translate(693.73,195.00) scale(1.342,1)" style="font-size:9.6px;">3</text>
<text transform="translate(143.88,237.00) scale(1.014,1)" style="font-size:14px;font-style:italic;stroke:#1a1a1a;stroke-width:0.3px">E</text>
<text transform="translate(152.49,241.50) scale(1.023,1)" style="font-size:12.8px;">0</text>
<text transform="translate(158.57,237.00) scale(1.152,1)" style="font-size:14px;font-style:italic;stroke:#1a1a1a;stroke-width:0.3px">h</text>
<text transform="translate(166.17,237.00) scale(1.257,1)" style="font-size:14px;font-style:italic;stroke:#1a1a1a;stroke-width:0.3px">u</text>
<text transform="translate(175.28,240.50) scale(1.110,1)" style="font-size:13px;font-style:italic;stroke:#1a1a1a;stroke-width:0.3px">x</text>
<text transform="translate(182.00,241.20) scale(0.851,1)" style="font-size:21px;">/</text>
<text transform="translate(187.00,237.80) scale(1.120,1)" style="font-size:15.5px;font-style:italic;stroke:#1a1a1a;stroke-width:0.3px">f</text>
<text transform="translate(193.78,241.00) scale(1.111,1)" style="font-size:11px;font-style:italic;stroke:#1a1a1a;stroke-width:0.3px">z</text>
<text transform="translate(503.88,237.00) scale(1.014,1)" style="font-size:14px;font-style:italic;stroke:#1a1a1a;stroke-width:0.3px">E</text>
<text transform="translate(512.49,241.50) scale(1.023,1)" style="font-size:12.8px;">0</text>
<text transform="translate(518.57,237.00) scale(1.152,1)" style="font-size:14px;font-style:italic;stroke:#1a1a1a;stroke-width:0.3px">h</text>
<text transform="translate(526.17,237.00) scale(1.257,1)" style="font-size:14px;font-style:italic;stroke:#1a1a1a;stroke-width:0.3px">u</text>
<text transform="translate(535.28,240.50) scale(1.128,1)" style="font-size:12px;font-style:italic;stroke:#1a1a1a;stroke-width:0.3px">z</text>
<text transform="translate(541.00,241.20) scale(0.851,1)" style="font-size:21px;">/</text>
<text transform="translate(546.00,237.80) scale(1.120,1)" style="font-size:15.5px;font-style:italic;stroke:#1a1a1a;stroke-width:0.3px">f</text>
<text transform="translate(552.78,241.00) scale(1.111,1)" style="font-size:11px;font-style:italic;stroke:#1a1a1a;stroke-width:0.3px">z</text>
<text transform="translate(145.37,508.00) scale(1.152,1)" style="font-size:14px;font-style:italic;stroke:#1a1a1a;stroke-width:0.3px">h</text>
<text transform="translate(153.30,505.30) scale(1.342,1)" style="font-size:9.6px;">2</text>
<text transform="translate(163.18,511.50) scale(1.443,1)" style="font-size:9.2px;font-style:italic">xz</text>
<text transform="translate(174.50,512.00) scale(0.936,1)" style="font-size:21px;">/</text>
<text transform="translate(180.00,508.80) scale(1.120,1)" style="font-size:15.5px;font-style:italic;stroke:#1a1a1a;stroke-width:0.3px">f</text>
<text transform="translate(186.81,512.00) scale(1.250,1)" style="font-size:9.5px;font-style:italic;stroke:#1a1a1a;stroke-width:0.3px">z</text>
<text transform="translate(505.57,508.00) scale(1.152,1)" style="font-size:14px;font-style:italic;stroke:#1a1a1a;stroke-width:0.3px">h</text>
<text transform="translate(513.50,505.30) scale(1.342,1)" style="font-size:9.6px;">2</text>
<text transform="translate(523.68,511.50) scale(1.404,1)" style="font-size:9.2px;font-style:italic">zz</text>
<text transform="translate(534.70,512.00) scale(0.936,1)" style="font-size:21px;">/</text>
<text transform="translate(540.20,508.80) scale(1.120,1)" style="font-size:15.5px;font-style:italic;stroke:#1a1a1a;stroke-width:0.3px">f</text>
<text transform="translate(547.01,512.00) scale(1.250,1)" style="font-size:9.5px;font-style:italic;stroke:#1a1a1a;stroke-width:0.3px">z</text>
<text transform="translate(82.28,258.60) scale(1.151,1)" style="font-size:14px;">(a)</text>
<text transform="translate(104.56,258.60) scale(1.273,1)" style="font-size:14px;font-style:italic;stroke:#1a1a1a;stroke-width:0.3px">u</text>
<text transform="translate(113.65,262.10) scale(1.411,1)" style="font-size:10px;font-style:italic;stroke:#1a1a1a;stroke-width:0.3px">x</text>
<text x="119.88" y="258.60" style="font-size:14px;">(</text>
<text transform="translate(124.53,258.60) scale(1.404,1)" style="font-size:14px;font-style:italic;stroke:#1a1a1a;stroke-width:0.3px">x</text>
<text x="133.90" y="258.60" style="font-size:14px;">,</text>
<text transform="translate(142.10,258.60) scale(1.200,1)" style="font-size:14px;">0</text>
<text x="151.00" y="258.60" style="font-size:14px;">,</text>
<text transform="translate(158.57,258.60) scale(1.513,1)" style="font-size:14px;font-style:italic;stroke:#1a1a1a;stroke-width:0.3px">z</text>
<text x="167.32" y="258.60" style="font-size:14px;">)</text>
<text transform="translate(176.23,258.60) scale(1.064,1)" style="font-size:14px;">induced</text>
<text transform="translate(230.60,258.60) scale(0.957,1)" style="font-size:14px;">by</text>
<text transform="translate(247.80,259.10) scale(1.417,1)" style="font-size:15px;font-style:italic;stroke:#1a1a1a;stroke-width:0.3px">f</text>
<text transform="translate(254.96,261.90) scale(1.430,1)" style="font-size:10px;font-style:italic;stroke:#1a1a1a;stroke-width:0.3px">z</text>
<text transform="translate(441.71,258.60) scale(1.104,1)" style="font-size:14px;">(b)</text>
<text transform="translate(464.36,258.60) scale(1.273,1)" style="font-size:14px;font-style:italic;stroke:#1a1a1a;stroke-width:0.3px">u</text>
<text transform="translate(473.73,262.10) scale(1.333,1)" style="font-size:10px;font-style:italic;stroke:#1a1a1a;stroke-width:0.3px">z</text>
<text x="479.68" y="258.60" style="font-size:14px;">(</text>
<text transform="translate(484.33,258.60) scale(1.404,1)" style="font-size:14px;font-style:italic;stroke:#1a1a1a;stroke-width:0.3px">x</text>
<text x="493.70" y="258.60" style="font-size:14px;">,</text>
<text transform="translate(501.90,258.60) scale(1.200,1)" style="font-size:14px;">0</text>
<text x="510.80" y="258.60" style="font-size:14px;">,</text>
<text transform="translate(518.37,258.60) scale(1.513,1)" style="font-size:14px;font-style:italic;stroke:#1a1a1a;stroke-width:0.3px">z</text>
<text x="527.12" y="258.60" style="font-size:14px;">)</text>
<text transform="translate(536.03,258.60) scale(1.064,1)" style="font-size:14px;">induced</text>
<text transform="translate(590.40,258.60) scale(0.957,1)" style="font-size:14px;">by</text>
<text transform="translate(607.60,259.10) scale(1.417,1)" style="font-size:15px;font-style:italic;stroke:#1a1a1a;stroke-width:0.3px">f</text>
<text transform="translate(614.76,261.90) scale(1.430,1)" style="font-size:10px;font-style:italic;stroke:#1a1a1a;stroke-width:0.3px">z</text>
<text transform="translate(80.74,533.00) scale(1.053,1)" style="font-size:14px;">(c)</text>
<text transform="translate(106.61,535.40) scale(1.673,1)" style="font-size:8.2px;font-style:italic">xz</text>
<text x="118.38" y="533.00" style="font-size:14px;">(</text>
<text transform="translate(123.03,533.00) scale(1.404,1)" style="font-size:14px;font-style:italic;stroke:#1a1a1a;stroke-width:0.3px">x</text>
<text x="132.40" y="533.00" style="font-size:14px;">,</text>
<text transform="translate(140.60,533.00) scale(1.200,1)" style="font-size:14px;">0</text>
<text x="149.50" y="533.00" style="font-size:14px;">,</text>
<text transform="translate(157.07,533.00) scale(1.513,1)" style="font-size:14px;font-style:italic;stroke:#1a1a1a;stroke-width:0.3px">z</text>
<text x="165.82" y="533.00" style="font-size:14px;">)</text>
<text transform="translate(174.73,533.00) scale(1.064,1)" style="font-size:14px;">induced</text>
<text transform="translate(229.10,533.00) scale(0.957,1)" style="font-size:14px;">by</text>
<text transform="translate(246.30,533.50) scale(1.417,1)" style="font-size:15px;font-style:italic;stroke:#1a1a1a;stroke-width:0.3px">f</text>
<text transform="translate(253.46,536.30) scale(1.430,1)" style="font-size:10px;font-style:italic;stroke:#1a1a1a;stroke-width:0.3px">z</text>
<text transform="translate(439.72,533.00) scale(1.091,1)" style="font-size:14px;">(d)</text>
<text transform="translate(467.30,535.40) scale(1.569,1)" style="font-size:8.2px;font-style:italic">zz</text>
<text x="478.38" y="533.00" style="font-size:14px;">(</text>
<text transform="translate(483.03,533.00) scale(1.404,1)" style="font-size:14px;font-style:italic;stroke:#1a1a1a;stroke-width:0.3px">x</text>
<text x="492.40" y="533.00" style="font-size:14px;">,</text>
<text transform="translate(500.60,533.00) scale(1.200,1)" style="font-size:14px;">0</text>
<text x="509.50" y="533.00" style="font-size:14px;">,</text>
<text transform="translate(517.07,533.00) scale(1.513,1)" style="font-size:14px;font-style:italic;stroke:#1a1a1a;stroke-width:0.3px">z</text>
<text x="525.83" y="533.00" style="font-size:14px;">)</text>
<text transform="translate(534.73,533.00) scale(1.064,1)" style="font-size:14px;">induced</text>
<text transform="translate(589.10,533.00) scale(0.957,1)" style="font-size:14px;">by</text>
<text transform="translate(606.30,533.50) scale(1.417,1)" style="font-size:15px;font-style:italic;stroke:#1a1a1a;stroke-width:0.3px">f</text>
<text transform="translate(613.46,536.30) scale(1.430,1)" style="font-size:10px;font-style:italic;stroke:#1a1a1a;stroke-width:0.3px">z</text>
<text transform="translate(134.79,557.90) scale(1.298,1)" style="font-size:14px;font-style:italic;stroke:#1a1a1a;stroke-width:0.3px">x</text>
<text transform="translate(143.60,561.20) scale(1.209,1)" style="font-size:21px;">/</text>
<text transform="translate(150.48,557.90) scale(1.120,1)" style="font-size:14px;font-style:italic;stroke:#1a1a1a;stroke-width:0.3px">h</text>
<text transform="translate(158.80,558.20) scale(1.600,1)" style="font-size:14px;">=</text>
<text transform="translate(172.31,557.90) scale(1.183,1)" style="font-size:14px;">0</text>
<text x="180.73" y="557.90" style="font-size:14px;">.</text>
<text transform="translate(182.86,557.90) scale(1.149,1)" style="font-size:14px;">1</text>
<text transform="translate(215.89,557.90) scale(1.298,1)" style="font-size:14px;font-style:italic;stroke:#1a1a1a;stroke-width:0.3px">x</text>
<text transform="translate(224.70,561.20) scale(1.209,1)" style="font-size:21px;">/</text>
<text transform="translate(231.58,557.90) scale(1.120,1)" style="font-size:14px;font-style:italic;stroke:#1a1a1a;stroke-width:0.3px">h</text>
<text transform="translate(239.90,558.20) scale(1.600,1)" style="font-size:14px;">=</text>
<text transform="translate(253.41,557.90) scale(1.183,1)" style="font-size:14px;">0</text>
<text x="261.82" y="557.90" style="font-size:14px;">.</text>
<text transform="translate(264.78,557.90) scale(0.996,1)" style="font-size:14px;">2</text>
<text transform="translate(296.19,557.90) scale(1.298,1)" style="font-size:14px;font-style:italic;stroke:#1a1a1a;stroke-width:0.3px">x</text>
<text transform="translate(305.00,561.20) scale(1.209,1)" style="font-size:21px;">/</text>
<text transform="translate(311.88,557.90) scale(1.120,1)" style="font-size:14px;font-style:italic;stroke:#1a1a1a;stroke-width:0.3px">h</text>
<text transform="translate(320.20,558.20) scale(1.600,1)" style="font-size:14px;">=</text>
<text transform="translate(333.71,557.90) scale(1.183,1)" style="font-size:14px;">0</text>
<text x="342.12" y="557.90" style="font-size:14px;">.</text>
<text transform="translate(345.10,557.90) scale(0.953,1)" style="font-size:14px;">3</text>
<text transform="translate(376.89,557.90) scale(1.298,1)" style="font-size:14px;font-style:italic;stroke:#1a1a1a;stroke-width:0.3px">x</text>
<text transform="translate(385.70,561.20) scale(1.209,1)" style="font-size:21px;">/</text>
<text transform="translate(392.58,557.90) scale(1.120,1)" style="font-size:14px;font-style:italic;stroke:#1a1a1a;stroke-width:0.3px">h</text>
<text transform="translate(400.90,558.20) scale(1.600,1)" style="font-size:14px;">=</text>
<text transform="translate(414.41,557.90) scale(1.183,1)" style="font-size:14px;">0</text>
<text x="422.82" y="557.90" style="font-size:14px;">.</text>
<text transform="translate(426.18,557.90) scale(0.862,1)" style="font-size:14px;">4</text>
<text transform="translate(459.09,557.90) scale(1.298,1)" style="font-size:14px;font-style:italic;stroke:#1a1a1a;stroke-width:0.3px">x</text>
<text transform="translate(467.90,561.20) scale(1.209,1)" style="font-size:21px;">/</text>
<text transform="translate(474.78,557.90) scale(1.120,1)" style="font-size:14px;font-style:italic;stroke:#1a1a1a;stroke-width:0.3px">h</text>
<text transform="translate(483.10,558.20) scale(1.600,1)" style="font-size:14px;">=</text>
<text transform="translate(496.61,557.90) scale(1.183,1)" style="font-size:14px;">0</text>
<text x="505.03" y="557.90" style="font-size:14px;">.</text>
<text transform="translate(507.87,557.90) scale(0.974,1)" style="font-size:14px;">5</text>
<text transform="translate(538.39,557.90) scale(1.298,1)" style="font-size:14px;font-style:italic;stroke:#1a1a1a;stroke-width:0.3px">x</text>
<text transform="translate(547.20,561.20) scale(1.209,1)" style="font-size:21px;">/</text>
<text transform="translate(554.08,557.90) scale(1.120,1)" style="font-size:14px;font-style:italic;stroke:#1a1a1a;stroke-width:0.3px">h</text>
<text transform="translate(562.40,558.20) scale(1.600,1)" style="font-size:14px;">=</text>
<text transform="translate(577.32,557.90) scale(0.944,1)" style="font-size:14px;">1</text>
<text x="584.32" y="557.90" style="font-size:14px;">.</text>
<text transform="translate(587.34,557.90) scale(1.117,1)" style="font-size:14px;">0</text>
<line x1="632.3" x2="632.3" y1="577" y2="582" stroke="#444" stroke-width="0.8"/>
</svg>
</body></html>
